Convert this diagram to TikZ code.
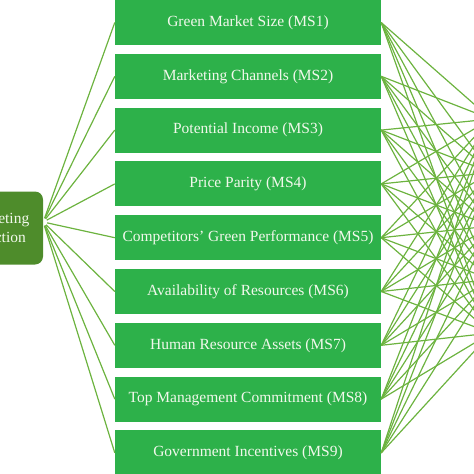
\documentclass[tikz,border=0pt]{standalone}
\usepackage{fontspec}
\setmainfont{Liberation Serif}
\usepackage{tikz}
\usetikzlibrary{positioning}

\definecolor{critgreen}{HTML}{2DB14A}
\definecolor{goalgreen}{HTML}{4E8C2B}
\definecolor{linkgreen}{HTML}{6CB33F}
\definecolor{labwhite}{HTML}{F2F8EC}

\begin{document}
\begin{tikzpicture}[
  x=1pt, y=-1pt,
  crit/.style={rectangle, fill=critgreen, minimum width=266pt, minimum height=45pt, inner sep=0pt, align=center, text=labwhite, font=\fontsize{15.5}{18}\selectfont},
  goal/.style={rectangle, fill=goalgreen, minimum width=92pt, minimum height=73pt, align=center, text=labwhite, font=\fontsize{15.5}{19}\selectfont, rounded corners=8pt},
  link/.style={draw=linkgreen, line width=1.2pt}
]
\clip (0,0) rectangle (474,474);
\node[goal] (goal) at (-3,228) {Marketing\\Selection};
\node[crit] (ms1) at (248,22.5) {Green Market Size (MS1)};
\node[crit, below=8.4pt of ms1] (ms2) {Marketing Channels (MS2)};
\node[crit, below=8.4pt of ms2] (ms3) {Potential Income (MS3)};
\node[crit, below=8.4pt of ms3] (ms4) {Price Parity (MS4)};
\node[crit, below=8.4pt of ms4] (ms5) {Competitors’ Green Performance (MS5)};
\node[crit, below=8.4pt of ms5] (ms6) {Availability of Resources (MS6)};
\node[crit, below=8.4pt of ms6] (ms7) {Human Resource Assets (MS7)};
\node[crit, below=8.4pt of ms7] (ms8) {Top Management Commitment (MS8)};
\node[crit, below=8.4pt of ms8] (ms9) {Government Incentives (MS9)};
% alternatives lie just beyond the right edge
\coordinate (alt1) at (491,119);
\coordinate (alt2) at (491,172.5);
\coordinate (alt3) at (491,226);
\coordinate (alt4) at (491,279.5);
\coordinate (alt5) at (491,333);
\foreach \i in {1,...,9} {
  \draw[link, shorten <=4pt] ([yshift=6pt]goal.east) -- (ms\i.west);
  \foreach \j in {1,...,5}
    \draw[link] (ms\i.east) -- (alt\j);
}
\end{tikzpicture}
\end{document}
